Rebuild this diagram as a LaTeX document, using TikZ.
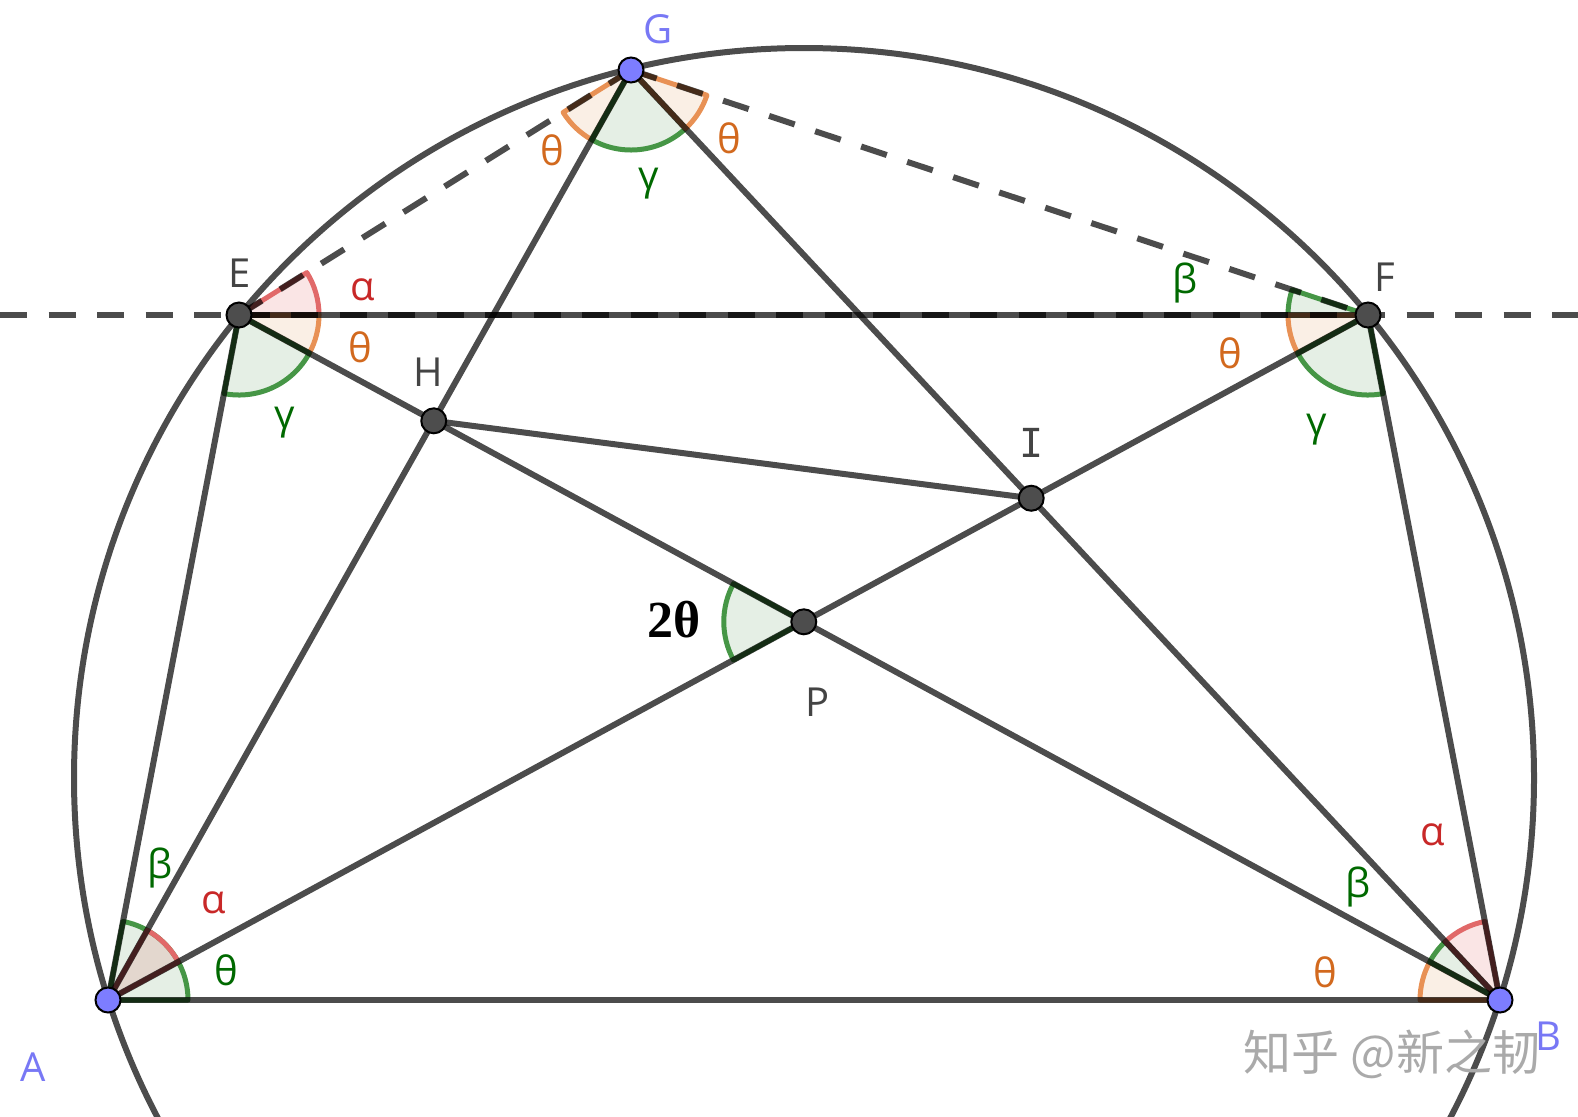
\documentclass[tikz,border=0pt]{standalone}
\usepackage{fontspec}
\setmainfont{Open Sans}
\newfontfamily\monofnt{DejaVu Sans Mono}
\newfontfamily\serffnt{Liberation Serif}
\newfontfamily\cjkfnt{Noto Sans CJK SC}
\usetikzlibrary{calc}
\definecolor{ptblue}{RGB}{125,125,255}
\definecolor{ptdark}{RGB}{77,77,77}
\definecolor{lblblue}{RGB}{120,120,245}
\definecolor{lblgray}{RGB}{68,68,68}
\definecolor{agreen}{RGB}{70,150,70}
\definecolor{ared}{RGB}{225,105,105}
\definecolor{aorange}{RGB}{232,145,85}
\definecolor{fgreen}{RGB}{0,100,0}
\definecolor{fred}{RGB}{204,0,0}
\definecolor{forange}{RGB}{204,102,0}
\definecolor{tgreen}{RGB}{0,105,0}
\definecolor{tred}{RGB}{200,40,40}
\definecolor{torange}{RGB}{210,105,30}
\definecolor{wmark}{RGB}{170,170,170}
\newcommand\angsec[5]{%
  \path[fill=#4, fill opacity=0.1, draw=#5, line width=2.5pt, line join=round]
    let \p1=($(#2)-(#1)$), \p2=($(#3)-(#1)$),
    \n1={atan2(\y1,\x1)}, \n2={atan2(\y2,\x2)},
    \n3={mod(\n2-\n1+540,360)-180} in
    (#1) -- ++(\n1:40pt) arc[start angle=\n1, delta angle=\n3, radius=40pt] -- cycle;}
\tikzset{
  seg/.style={draw=black, draw opacity=0.7, line width=3pt},
  dsh/.style={seg, dash pattern=on 13.5pt off 10.75pt},
  ptb/.style={circle, draw=black, line width=1pt, fill=ptblue, minimum size=12.5pt, inner sep=0pt},
  ptd/.style={circle, draw=black, line width=1pt, fill=ptdark, minimum size=12.5pt, inner sep=0pt},
  lbl/.style={font=\fontsize{20pt}{24pt}\selectfont, inner sep=0pt},
  glbl/.style={lbl, text=tgreen},
  rlbl/.style={lbl, text=tred},
  olbl/.style={lbl, text=torange},
}
\begin{document}
\begin{tikzpicture}[x=0.5pt, y=-0.5pt]
\useasboundingbox (0,0) rectangle (1578,1116);
\clip (0,0) rectangle (1578,1116);
% points
\coordinate (A) at (108,1000);
\coordinate (B) at (1500,1000);
\coordinate (G) at (631,70);
\coordinate (E) at (239,315);
\coordinate (F) at (1368,315);
\coordinate (O) at (804,778);
\coordinate (L) at (0,315);
\coordinate (R) at (1578,315);
\coordinate (P) at (intersection of A--F and E--B);
\coordinate (H) at (intersection of A--G and E--B);
\coordinate (I) at (intersection of A--F and G--B);
% angle sectors
\angsec{A}{B}{E}{fgreen}{agreen}
\angsec{A}{P}{G}{fred}{ared}
\angsec{B}{A}{P}{forange}{aorange}
\angsec{B}{P}{G}{fgreen}{agreen}
\angsec{B}{G}{F}{fred}{ared}
\angsec{E}{F}{G}{fred}{ared}
\angsec{E}{F}{H}{forange}{aorange}
\angsec{E}{H}{A}{fgreen}{agreen}
\angsec{F}{G}{E}{fgreen}{agreen}
\angsec{F}{E}{P}{forange}{aorange}
\angsec{F}{P}{B}{fgreen}{agreen}
\angsec{G}{E}{H}{forange}{aorange}
\angsec{G}{H}{I}{fgreen}{agreen}
\angsec{G}{I}{F}{forange}{aorange}
\angsec{P}{H}{A}{fgreen}{agreen}
% circle and segments
\draw[seg] (O) circle[radius=730];
\draw[seg] (A) -- (B);
\draw[seg] (A) -- (E);
\draw[seg] (A) -- (G);
\draw[seg] (A) -- (F);
\draw[seg] (E) -- (B);
\draw[seg] (G) -- (B);
\draw[seg] (B) -- (F);
\draw[seg] (H) -- (I);
\draw[seg] (E) -- (F);
\draw[dsh] (L) -- (R);
\draw[dsh] (E) -- (G);
\draw[dsh] (G) -- (F);
% point labels
\node[lbl, text=lblblue] (lG) at (658,29) {G};
\node[lbl, text=lblblue] (lA) at (33,1067) {A};
\node[lbl, text=lblgray] (lE) at (240,273) {E};
\node[lbl, text=lblgray] (lF) at (1385,277) {F};
\node[lbl, text=lblgray] (lH) at (428,372) {H};
\node[lbl, text=lblgray, font=\monofnt\fontsize{20pt}{24pt}\selectfont] (lI) at (1032,443) {I};
\node[lbl, text=lblgray] (lP) at (818,702) {P};
% angle labels
\node[olbl] (tG1) at (552,150) {θ};
\node[olbl] (tG2) at (729,138) {θ};
\node[glbl] (gG) at (649,184) {γ};
\node[rlbl] (aE) at (363,290) {α};
\node[olbl] (tE) at (360,347) {θ};
\node[glbl] (gE) at (285,423) {γ};
\node[glbl] (bF) at (1185,283) {β};
\node[olbl] (tF) at (1230,353) {θ};
\node[glbl] (gF) at (1317,430) {γ};
\node[glbl] (bA) at (160,868) {β};
\node[rlbl] (aA) at (214,903) {α};
\node[glbl] (tA) at (226,970) {θ};
\node[rlbl] (aB) at (1433,835) {α};
\node[glbl] (bB) at (1358,887) {β};
\node[olbl] (tB) at (1325,972) {θ};
\node[font=\serffnt\bfseries\fontsize{26pt}{30pt}\selectfont, inner sep=0pt] (tP) at (674,620) {2θ};
% watermark
\node[font=\cjkfnt\fontsize{24pt}{28pt}\selectfont, text=wmark, inner sep=0pt] (wm) at (1392,1054) {知乎 @新之韧};
\node[lbl, text=lblblue] (lB) at (1548,1036) {B};
% point dots
\node[ptb] (dA) at (A) {};
\node[ptb] (dB) at (B) {};
\node[ptb] (dG) at (G) {};
\node[ptd] (dE) at (E) {};
\node[ptd] (dF) at (F) {};
\node[ptd] (dH) at (H) {};
\node[ptd] (dI) at (I) {};
\node[ptd] (dP) at (P) {};
\end{tikzpicture}
\end{document}
